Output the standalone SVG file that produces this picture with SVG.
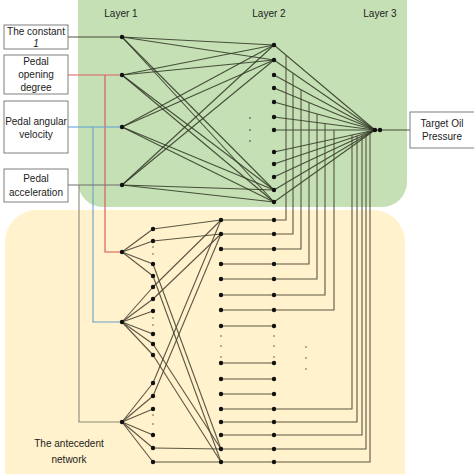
<svg xmlns="http://www.w3.org/2000/svg" width="474" height="474" viewBox="0 0 474 474">
<style>
text{font-family:"Liberation Sans",Arial,sans-serif;font-size:10px;fill:#222;text-anchor:middle}
.box{fill:#fff;stroke:#7f7f7f;stroke-width:1}
.c{stroke:#2f3525;stroke-width:1.1;fill:none;stroke-opacity:.85}
.cy{stroke:#4a4535;stroke-width:1.1;fill:none;stroke-opacity:.9}
.n{fill:#111}
.d{fill:#333}
</style>
<rect width="474" height="474" fill="#fff"/>
<rect x="78" y="-30" width="329" height="237" rx="25" fill="#c5e0b4"/>
<path d="M5,474 V242 A32,32 0 0 1 37,210 H373 A32,32 0 0 1 405,242 V474 Z" fill="#fff2cc"/>

<text x="121" y="17">Layer 1</text>
<text x="269" y="17">Layer 2</text>
<text x="380" y="17">Layer 3</text>

<g id="connectors">
<polyline class="c" points="68,37 122,37"/>
<polyline points="68,75 122,75" fill="none" stroke="#e06060" stroke-width="1.1"/>
<polyline points="105,75 105,252 122,252" fill="none" stroke="#d9534f" stroke-width="1.1"/>
<polyline points="68,127 122,127" fill="none" stroke="#5b9bd5" stroke-width="1.1"/>
<polyline points="93,127 93,322 122,322" fill="none" stroke="#6a9fc8" stroke-width="1.1"/>
<polyline points="68,185 122,185" fill="none" stroke="#707070" stroke-width="1.1"/>
<polyline points="79,185 79,422 122,422" fill="none" stroke="#8a8a7a" stroke-width="1.1"/>
<g class="c">
<line x1="122" y1="37" x2="274" y2="45"/><line x1="122" y1="37" x2="274" y2="60"/><line x1="122" y1="37" x2="274" y2="190"/><line x1="122" y1="37" x2="274" y2="202"/>
<line x1="122" y1="75" x2="274" y2="45"/><line x1="122" y1="75" x2="274" y2="60"/><line x1="122" y1="75" x2="274" y2="190"/><line x1="122" y1="75" x2="274" y2="202"/>
<line x1="122" y1="127" x2="274" y2="45"/><line x1="122" y1="127" x2="274" y2="60"/><line x1="122" y1="127" x2="274" y2="190"/><line x1="122" y1="127" x2="274" y2="202"/>
<line x1="122" y1="185" x2="274" y2="45"/><line x1="122" y1="185" x2="274" y2="60"/><line x1="122" y1="185" x2="274" y2="190"/><line x1="122" y1="185" x2="274" y2="202"/>
</g>
<g class="c">
<line x1="274" y1="45" x2="375" y2="130"/><line x1="274" y1="60" x2="375" y2="130"/><line x1="274" y1="75" x2="375" y2="130"/><line x1="274" y1="88" x2="375" y2="130"/>
<line x1="274" y1="102" x2="375" y2="130"/><line x1="274" y1="117" x2="375" y2="130"/><line x1="274" y1="130" x2="375" y2="130"/><line x1="274" y1="152" x2="375" y2="130"/>
<line x1="274" y1="164" x2="375" y2="130"/><line x1="274" y1="177" x2="375" y2="130"/><line x1="274" y1="190" x2="375" y2="130"/><line x1="274" y1="202" x2="375" y2="130"/>
<line x1="375" y1="130" x2="410" y2="130"/>
</g>
<g class="cy">
<line x1="122" y1="252" x2="153" y2="229"/><line x1="122" y1="252" x2="153" y2="241"/><line x1="122" y1="252" x2="153" y2="264"/><line x1="122" y1="252" x2="153" y2="276"/>
<line x1="122" y1="322" x2="153" y2="287"/><line x1="122" y1="322" x2="153" y2="299"/><line x1="122" y1="322" x2="153" y2="311"/><line x1="122" y1="322" x2="153" y2="334"/><line x1="122" y1="322" x2="153" y2="344"/><line x1="122" y1="322" x2="153" y2="355"/>
<line x1="122" y1="422" x2="153" y2="383"/><line x1="122" y1="422" x2="153" y2="396"/><line x1="122" y1="422" x2="153" y2="409"/><line x1="122" y1="422" x2="153" y2="435"/><line x1="122" y1="422" x2="153" y2="448"/><line x1="122" y1="422" x2="153" y2="462"/>
</g>
<g class="cy">
<line x1="153" y1="229" x2="221" y2="220"/><line x1="153" y1="287" x2="221" y2="220"/><line x1="153" y1="383" x2="221" y2="220"/>
<line x1="153" y1="241" x2="221" y2="234"/><line x1="153" y1="299" x2="221" y2="234"/><line x1="153" y1="396" x2="221" y2="234"/>
<line x1="153" y1="264" x2="221" y2="449"/><line x1="153" y1="344" x2="221" y2="449"/><line x1="153" y1="448" x2="221" y2="449"/>
<line x1="153" y1="276" x2="221" y2="462"/><line x1="153" y1="355" x2="221" y2="462"/><line x1="153" y1="462" x2="221" y2="462"/>
</g>
<g class="cy">
<line x1="221" y1="326" x2="274" y2="326"/><line x1="221" y1="363" x2="274" y2="363"/><line x1="221" y1="379" x2="274" y2="379"/><line x1="221" y1="394" x2="274" y2="394"/>
<polyline points="221,220 286,220 286,55.2"/>
<polyline points="221,234 293,234 293,73.3"/>
<polyline points="221,249 301,249 301,89.9"/>
<polyline points="221,264 309,264 309,102.7"/>
<polyline points="221,279 317,279 317,114"/>
<polyline points="221,295 325,295 325,123.6"/>
<polyline points="221,310 334,310 334,130"/>
<polyline points="221,409 352,409 352,134.8"/>
<polyline points="221,422 357,422 357,135.8"/>
<polyline points="221,435 362,435 362,135.6"/>
<polyline points="221,449 366,449 366,134.8"/>
<polyline points="221,462 370,462 370,132.9"/>
</g>
</g>

<g id="input-constant"><rect class="box" x="4" y="25" width="64" height="24"/><text x="36" y="35">The constant</text><text x="36" y="47" font-style="italic">1</text></g>
<g id="input-opening"><rect class="box" x="4" y="55" width="64" height="39"/><text x="36" y="65">Pedal</text><text x="36" y="78">opening</text><text x="36" y="91">degree</text></g>
<g id="input-velocity"><rect class="box" x="4" y="101" width="64" height="52"/><text x="36" y="125">Pedal angular</text><text x="36" y="138">velocity</text></g>
<g id="input-acceleration"><rect class="box" x="4" y="169" width="64" height="33"/><text x="36" y="182">Pedal</text><text x="36" y="196">acceleration</text></g>
<g id="output"><rect class="box" x="410" y="112" width="70" height="36"/><text x="442" y="127">Target Oil</text><text x="442" y="140">Pressure</text></g>

<g id="layer1">
<circle class="n" cx="122" cy="37" r="2.2"/><circle class="n" cx="122" cy="75" r="2.2"/><circle class="n" cx="122" cy="127" r="2.2"/><circle class="n" cx="122" cy="185" r="2.2"/>
</g>
<g id="layer2">
<circle class="n" cx="274" cy="45" r="2.2"/><circle class="n" cx="274" cy="60" r="2.2"/><circle class="n" cx="274" cy="75" r="2.2"/><circle class="n" cx="274" cy="88" r="2.2"/>
<circle class="n" cx="274" cy="102" r="2.2"/><circle class="n" cx="274" cy="117" r="2.2"/><circle class="n" cx="274" cy="130" r="2.2"/><circle class="n" cx="274" cy="152" r="2.2"/>
<circle class="n" cx="274" cy="164" r="2.2"/><circle class="n" cx="274" cy="177" r="2.2"/><circle class="n" cx="274" cy="190" r="2.2"/><circle class="n" cx="274" cy="202" r="2.2"/>
<circle class="d" cx="250" cy="118" r="0.8"/><circle class="d" cx="250" cy="130" r="0.8"/><circle class="d" cx="250" cy="141" r="0.8"/>
</g>
<g id="layer3">
<circle class="n" cx="375" cy="130" r="2.2"/><circle class="n" cx="380" cy="130" r="2.2"/>
</g>
<g id="antecedent">
<text x="69" y="447" font-size="12">The antecedent</text>
<text x="69" y="463" font-size="12">network</text>
<circle class="n" cx="122" cy="252" r="2.2"/><circle class="n" cx="122" cy="322" r="2.2"/><circle class="n" cx="122" cy="422" r="2.2"/>
<g>
<circle class="n" cx="153" cy="229" r="2.2"/><circle class="n" cx="153" cy="241" r="2.2"/><circle class="n" cx="153" cy="264" r="2.2"/><circle class="n" cx="153" cy="276" r="2.2"/>
<circle class="n" cx="153" cy="287" r="2.2"/><circle class="n" cx="153" cy="299" r="2.2"/><circle class="n" cx="153" cy="311" r="2.2"/><circle class="n" cx="153" cy="334" r="2.2"/><circle class="n" cx="153" cy="344" r="2.2"/><circle class="n" cx="153" cy="355" r="2.2"/>
<circle class="n" cx="153" cy="383" r="2.2"/><circle class="n" cx="153" cy="396" r="2.2"/><circle class="n" cx="153" cy="409" r="2.2"/><circle class="n" cx="153" cy="435" r="2.2"/><circle class="n" cx="153" cy="448" r="2.2"/><circle class="n" cx="153" cy="462" r="2.2"/>
<circle class="d" cx="153" cy="247" r="0.7"/><circle class="d" cx="153" cy="254" r="0.7"/>
<circle class="d" cx="153" cy="318" r="0.7"/><circle class="d" cx="153" cy="325" r="0.7"/>
<circle class="d" cx="153" cy="415" r="0.7"/><circle class="d" cx="153" cy="424" r="0.7"/>
</g>
<g>
<circle class="n" cx="221" cy="220" r="2.2"/><circle class="n" cx="221" cy="234" r="2.2"/><circle class="n" cx="221" cy="249" r="2.2"/><circle class="n" cx="221" cy="264" r="2.2"/><circle class="n" cx="221" cy="279" r="2.2"/><circle class="n" cx="221" cy="295" r="2.2"/><circle class="n" cx="221" cy="310" r="2.2"/><circle class="n" cx="221" cy="326" r="2.2"/>
<circle class="n" cx="221" cy="363" r="2.2"/><circle class="n" cx="221" cy="379" r="2.2"/><circle class="n" cx="221" cy="394" r="2.2"/><circle class="n" cx="221" cy="409" r="2.2"/><circle class="n" cx="221" cy="422" r="2.2"/><circle class="n" cx="221" cy="435" r="2.2"/><circle class="n" cx="221" cy="449" r="2.2"/><circle class="n" cx="221" cy="462" r="2.2"/>
<circle class="d" cx="221" cy="336" r="0.7"/><circle class="d" cx="221" cy="346" r="0.7"/><circle class="d" cx="221" cy="357" r="0.7"/>
</g>
<g>
<circle class="n" cx="274" cy="220" r="2.2"/><circle class="n" cx="274" cy="234" r="2.2"/><circle class="n" cx="274" cy="249" r="2.2"/><circle class="n" cx="274" cy="264" r="2.2"/><circle class="n" cx="274" cy="279" r="2.2"/><circle class="n" cx="274" cy="295" r="2.2"/><circle class="n" cx="274" cy="310" r="2.2"/><circle class="n" cx="274" cy="326" r="2.2"/>
<circle class="n" cx="274" cy="363" r="2.2"/><circle class="n" cx="274" cy="379" r="2.2"/><circle class="n" cx="274" cy="394" r="2.2"/><circle class="n" cx="274" cy="409" r="2.2"/><circle class="n" cx="274" cy="422" r="2.2"/><circle class="n" cx="274" cy="435" r="2.2"/><circle class="n" cx="274" cy="449" r="2.2"/><circle class="n" cx="274" cy="462" r="2.2"/>
<circle class="d" cx="274" cy="336" r="0.7"/><circle class="d" cx="274" cy="346" r="0.7"/><circle class="d" cx="274" cy="357" r="0.7"/>
<circle class="d" cx="306" cy="347" r="0.7"/><circle class="d" cx="306" cy="358" r="0.7"/><circle class="d" cx="306" cy="369" r="0.7"/>
</g>
</g>
</svg>
